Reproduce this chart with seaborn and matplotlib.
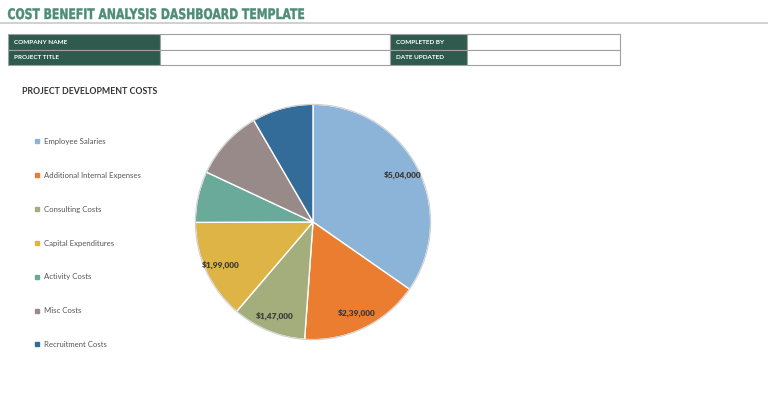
import matplotlib
matplotlib.use("Agg")
import matplotlib.pyplot as plt
import seaborn as sns
import numpy as np
from matplotlib.patches import Rectangle, PathPatch
from matplotlib.lines import Line2D
from matplotlib.textpath import TextPath
from matplotlib.font_manager import FontProperties
from matplotlib.transforms import Affine2D

# ---------- data ----------
categories = ["Employee Salaries", "Additional Internal Expenses", "Consulting Costs",
              "Capital Expenditures", "Activity Costs", "Misc Costs", "Recruitment Costs"]
costs = [504000, 239000, 147000, 199000, 102000, 140000, 122000]
labelled = [True, True, True, True, False, False, False]
colors = ["#8cb4d8", "#ea7d30", "#a3ae7c", "#ddb445", "#69aa9b", "#978a89", "#336c99"]

title = "COST BENEFIT ANALYSIS DASHBOARD TEMPLATE"
header_left = ["COMPANY NAME", "PROJECT TITLE"]
header_right = ["COMPLETED BY", "DATE UPDATED"]


def indian_fmt(v):
    s = str(int(v))
    last3, rest = s[-3:], s[:-3]
    parts = []
    while len(rest) > 2:
        parts.insert(0, rest[-2:])
        rest = rest[:-2]
    if rest:
        parts.insert(0, rest)
    return "$" + ",".join(parts + [last3])


sns.set_style("white")
plt.rcParams['font.family'] = ['Lato', 'DejaVu Sans']

W, H = 768, 393
fig = plt.figure(figsize=(W / 100, H / 100), dpi=100)
fig.patch.set_facecolor("white")

# layout axes in pixel coordinates
bg = fig.add_axes([0, 0, 1, 1])
bg.set_xlim(0, W)
bg.set_ylim(H, 0)
bg.axis("off")

# condensed bold title: squeeze a text path horizontally
tp = TextPath((0, 0), title, size=10, prop=FontProperties(family="DejaVu Sans", weight="bold"))
ext = tp.get_extents()
cap = TextPath((0, 0), "C", size=10, prop=FontProperties(family="DejaVu Sans", weight="bold")).get_extents()
sx = 296 / ext.width
sy = 11 / cap.height
tr = Affine2D().translate(-ext.x0, 0).scale(sx, -sy).translate(8, 19)
bg.add_patch(PathPatch(tr.transform_path(tp), facecolor="#4e8c78", edgecolor="#4e8c78", lw=0.3))
bg.plot([0, W], [22.5, 22.5], color="#c8c8c8", lw=1.2)

dark = "#2f5b4e"
rows = [(34, 16), (50, 15)]
for i, (y, h) in enumerate(rows):
    bg.add_patch(Rectangle((8, y), 152, h, facecolor=dark, edgecolor="#a0a0a0", lw=0.8))
    bg.add_patch(Rectangle((160, y), 230, h, facecolor="white", edgecolor="#a0a0a0", lw=0.8))
    bg.add_patch(Rectangle((390, y), 77, h, facecolor=dark, edgecolor="#a0a0a0", lw=0.8))
    bg.add_patch(Rectangle((467, y), 153, h, facecolor="white", edgecolor="#a0a0a0", lw=0.8))
    bg.text(14, y + h / 2, header_left[i], color="white", fontsize=4.6,
            fontweight="bold", va="center", ha="left")
    bg.text(396, y + h / 2, header_right[i], color="white", fontsize=4.6,
            fontweight="bold", va="center", ha="left")

bg.text(22, 92, "PROJECT DEVELOPMENT COSTS", color="#333333", fontsize=6.3,
        fontweight="bold", va="center", ha="left")

# ---------- pie ----------
cx, cy, r = 313, 222, 120
ax = fig.add_axes([(cx - r) / W, (H - cy - r) / H, 2 * r / W, 2 * r / H])
wedges, _ = ax.pie(costs, colors=colors, startangle=90, counterclock=False,
                   wedgeprops=dict(edgecolor="white", linewidth=1.0))
ax.set_xlim(-1.02, 1.02)
ax.set_ylim(-1.02, 1.02)
ax.set_aspect("equal")
ax.add_patch(plt.Circle((0, 0), 1.0, fill=False, edgecolor="#d0d0d0", lw=0.8))

for w, v, show in zip(wedges, costs, labelled):
    if not show:
        continue
    mid = np.deg2rad((w.theta1 + w.theta2) / 2)
    ax.text(0.86 * np.cos(mid), 0.86 * np.sin(mid), indian_fmt(v),
            ha="center", va="center", fontsize=6.0, fontweight="heavy", color="#3a3a3a")

# ---------- legend ----------
handles = [Line2D([0], [0], marker="s", color="none", markerfacecolor=c,
                  markeredgecolor=c, markersize=3.2) for c in colors]
fig.legend(handles, categories, loc="upper left", bbox_to_anchor=(32 / W, 1 - 135 / H),
           frameon=False, fontsize=5.6, labelspacing=3.45, handlelength=0.6,
           handletextpad=0.5, labelcolor="#555555", borderaxespad=0)

fig.savefig("out.png", dpi=100)
